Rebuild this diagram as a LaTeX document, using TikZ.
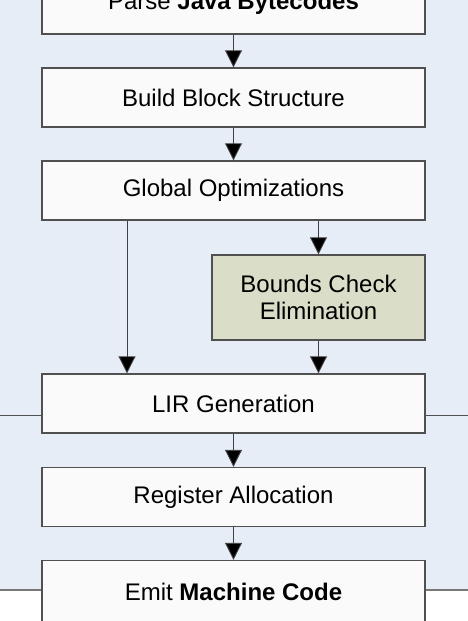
\documentclass[tikz,border=0pt]{standalone}
\usepackage{fontspec}
\setmainfont{Liberation Sans}
\usetikzlibrary{arrows.meta}
\definecolor{panelblue}{RGB}{231,237,247}
\definecolor{stepfill}{RGB}{250,250,250}
\definecolor{optfill}{RGB}{218,222,200}
\definecolor{edgegray}{RGB}{80,80,80}
\definecolor{linegray}{RGB}{120,120,120}
\tikzset{
  phase/.style={draw=edgegray, line width=1.4pt, fill=stepfill, minimum width=383pt,
    minimum height=59pt, inner sep=0pt, font=\fontsize{24}{27}\selectfont},
  optbox/.style={phase, fill=optfill, minimum width=213pt, minimum height=85pt, align=center},
  flow/.style={draw=black!75, line width=0.9pt, -{Triangle[width=17pt,length=17pt,fill=black]}}
}
\begin{document}
\begin{tikzpicture}[x=1pt,y=-1pt]
	\useasboundingbox (0,0) rectangle (468,621);
	% Hintergrund der Phasen
	\fill[panelblue] (0,-40) rectangle (468,590);
	\draw[linegray, line width=1.5pt] (0,590) -- (468,590);
	\draw[edgegray, line width=1pt] (0,415.5) -- (468,415.5);
	
	% Phasen des Compilers
	\node[phase, minimum height=62pt] (parse) at (233.5,3) {Parse \textbf{Java Bytecodes}};
	\node[phase] (block) at (233.5,97.5) {Build Block Structure};
	\node[phase] (global) at (233.5,190.5) {Global Optimizations};
	\node[optbox] (bounds) at (318.5,297.5) {Bounds Check\\Elimination};
	\node[phase] (lir) at (233.5,403.5) {LIR Generation};
	\node[phase] (regalloc) at (233.5,497) {Register Allocation};
	\node[phase, minimum height=62pt] (emit) at (233.5,591.5) {Emit \textbf{Machine Code}};
	
	% Verbindungen
	\draw[flow] (parse) -- (block);
	\draw[flow] (block) -- (global);
	\draw[flow] (global.south -| 127,0) -- (lir.north -| 127,0);
	\draw[flow] (global.south -| bounds) -- (bounds);
	\draw[flow] (bounds) -- (lir.north -| bounds);
	\draw[flow] (lir) -- (regalloc);
	\draw[flow] (regalloc) -- (emit);
\end{tikzpicture}
\end{document}
